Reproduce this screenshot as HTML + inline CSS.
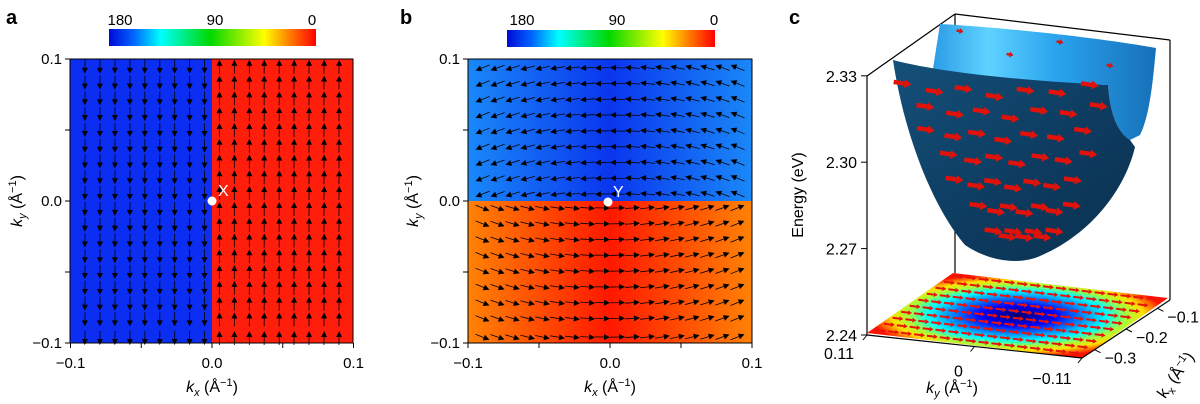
<!DOCTYPE html>
<html><head><meta charset="utf-8"><style>
html,body{margin:0;padding:0;background:#fff;}
svg{display:block;font-family:"Liberation Sans",Arial,sans-serif;}
</style></head><body>
<svg id="fig" width="1200" height="404" viewBox="0 0 1200 404">
<defs>
<linearGradient id="jet" x1="0" x2="1" y1="0" y2="0">
<stop offset="0" stop-color="#0008d8"/><stop offset="0.12" stop-color="#0066ff"/><stop offset="0.25" stop-color="#00ffff"/>
<stop offset="0.49" stop-color="#00d800"/><stop offset="0.75" stop-color="#ffff00"/><stop offset="0.87" stop-color="#ff8000"/><stop offset="1" stop-color="#ff0000"/>
</linearGradient>
<linearGradient id="bTop" x1="0" x2="1"><stop offset="0" stop-color="#1a88f8"/><stop offset="0.5" stop-color="#0a36ee"/><stop offset="1" stop-color="#1a88f8"/></linearGradient>
<linearGradient id="bBot" x1="0" x2="1"><stop offset="0" stop-color="#ff8205"/><stop offset="0.5" stop-color="#ff1800"/><stop offset="1" stop-color="#ff8205"/></linearGradient>
<radialGradient id="floorGrad" cx="50" cy="50" r="64" gradientUnits="userSpaceOnUse">
<stop offset="0" stop-color="#000070"/><stop offset="0.25" stop-color="#0000ff"/><stop offset="0.45" stop-color="#0090ff"/>
<stop offset="0.6" stop-color="#00ffff"/><stop offset="0.73" stop-color="#a0ff40"/><stop offset="0.85" stop-color="#ffe000"/><stop offset="1" stop-color="#ff1000"/>
</radialGradient>
<linearGradient id="backGrad" x1="0" x2="1" y1="0" y2="0"><stop offset="0" stop-color="#2b9be6"/><stop offset="0.25" stop-color="#5fd2ff"/><stop offset="0.55" stop-color="#2aa4ef"/><stop offset="1" stop-color="#1670b8"/></linearGradient>
<linearGradient id="frontGrad" x1="0" x2="1" y1="0" y2="1"><stop offset="0" stop-color="#14507a"/><stop offset="0.6" stop-color="#0d3a5e"/><stop offset="1" stop-color="#0b3150"/></linearGradient>
</defs>

<!-- Panel a -->
<text x="6" y="24" font-size="20" font-weight="bold">a</text>
<rect x="109" y="29" width="207" height="17" fill="url(#jet)"/>
<g font-size="15" text-anchor="middle">
<text x="120" y="25">180</text><text x="215" y="25">90</text><text x="312" y="25">0</text></g>
<rect x="70" y="59" width="142" height="284" fill="#0c2ef2"/>
<rect x="212" y="59" width="141" height="284" fill="#ff1e0c"/>
<g id="arrowsA"></g>
<rect x="70" y="59" width="283" height="284" fill="none" stroke="#000" stroke-width="1"/>
<g id="ticksA"></g>
<circle cx="212" cy="201" r="4.5" fill="#fff"/>
<text x="218" y="196" font-size="16" fill="#fff">X</text>
<text x="212" y="392" font-size="16" text-anchor="middle"><tspan font-style="italic">k</tspan><tspan font-style="italic" font-size="11" dy="4">x</tspan><tspan dy="-4"> (Å</tspan><tspan font-size="11" dy="-6">−1</tspan><tspan dy="6">)</tspan></text>
<text transform="translate(22,201) rotate(-90)" font-size="16" text-anchor="middle"><tspan font-style="italic">k</tspan><tspan font-style="italic" font-size="11" dy="4">y</tspan><tspan dy="-4"> (Å</tspan><tspan font-size="11" dy="-6">−1</tspan><tspan dy="6">)</tspan></text>

<!-- Panel b -->
<text x="400" y="24" font-size="20" font-weight="bold">b</text>
<rect x="507" y="30" width="208" height="17" fill="url(#jet)"/>
<g font-size="15" text-anchor="middle">
<text x="522" y="25">180</text><text x="617" y="25">90</text><text x="714" y="25">0</text></g>
<rect x="468" y="59" width="284" height="142" fill="url(#bTop)"/>
<rect x="468" y="201" width="284" height="142" fill="url(#bBot)"/>
<g id="arrowsB"></g>
<rect x="468" y="59" width="284" height="284" fill="none" stroke="#000" stroke-width="1"/>
<g id="ticksB"></g>
<circle cx="608" cy="202" r="4.5" fill="#fff"/>
<text x="613" y="197" font-size="16" fill="#fff">Y</text>
<text x="610" y="392" font-size="16" text-anchor="middle"><tspan font-style="italic">k</tspan><tspan font-style="italic" font-size="11" dy="4">x</tspan><tspan dy="-4"> (Å</tspan><tspan font-size="11" dy="-6">−1</tspan><tspan dy="6">)</tspan></text>
<text transform="translate(418,201) rotate(-90)" font-size="16" text-anchor="middle"><tspan font-style="italic">k</tspan><tspan font-style="italic" font-size="11" dy="4">y</tspan><tspan dy="-4"> (Å</tspan><tspan font-size="11" dy="-6">−1</tspan><tspan dy="6">)</tspan></text>

<!-- Panel c -->
<text x="789" y="24" font-size="20" font-weight="bold">c</text>
<g stroke="#000" stroke-width="1.2" fill="none">
<line x1="955" y1="14" x2="1170" y2="40"/><line x1="955" y1="14" x2="867" y2="76"/>
<line x1="955" y1="14" x2="955" y2="273"/><line x1="867" y1="76" x2="867" y2="335"/>
<line x1="1170" y1="40" x2="1170" y2="300"/>
</g>
<g transform="matrix(2.15,0.25,0.86,-0.60,867,333)"><rect x="0" y="0" width="100" height="100" fill="url(#floorGrad)"/></g>
<g id="floorArrows"></g>
<g stroke="#000" stroke-width="1.2" fill="none">
<line x1="867" y1="335" x2="1082" y2="358"/><line x1="1082" y1="358" x2="1170" y2="300"/>
</g>
<path d="M940,24 C1010,28 1100,38 1156,48 C1153,80 1150,115 1140,135 L1130,140 C1115,130 1110,110 1108,85 C1050,82 980,80 932,75 Z" fill="url(#backGrad)"/>
<g id="backArrows"></g>
<path d="M893,60 C950,75 1050,82 1108,85 C1110,110 1115,130 1130,140 L1135,147 C1125,190 1090,235 1040,256 C1020,265 990,262 965,245 C935,210 905,140 893,60 Z" fill="url(#frontGrad)"/>
<g id="surfArrows"></g>
<g id="ticksC"></g>
<text transform="translate(803,195) rotate(-90)" font-size="16" text-anchor="middle">Energy (eV)</text>
<text x="952" y="393" font-size="16" text-anchor="middle"><tspan font-style="italic">k</tspan><tspan font-style="italic" font-size="11" dy="4">y</tspan><tspan dy="-4"> (Å</tspan><tspan font-size="11" dy="-6">−1</tspan><tspan dy="6">)</tspan></text>
<text transform="translate(1180,378) rotate(-55)" font-size="16" text-anchor="middle"><tspan>k</tspan><tspan font-size="11" dy="4">x</tspan><tspan dy="-4"> (Å</tspan><tspan font-size="11" dy="-6">−1</tspan><tspan dy="6">)</tspan></text>
</svg>
<script>
// ---- data ----
const kxGrid = [-0.0898,-0.0792,-0.0686,-0.058,-0.0475,-0.0369,-0.0264,-0.0158,-0.0053,0.0053,0.0158,0.0264,0.0369,0.0475,0.058,0.0686,0.0792,0.0898];
const kyGrid = [0.0945,0.0834,0.0723,0.0612,0.0500,0.0389,0.0278,0.0167,0.0056,-0.0056,-0.0167,-0.0278,-0.0389,-0.0500,-0.0612,-0.0723,-0.0834,-0.0965];
const axisTicks = [-0.1,-0.05,0,0.05,0.1];
const axisTickLabels = ["−0.1","","0.0","","0.1"];
const energyTicks = [2.24,2.27,2.30,2.33];
const energyLabels = ["2.24","2.27","2.30","2.33"];
const kyTicks = [0.11,0,-0.11];
const kyLabels = ["0.11","0","−0.11"];
const kxTicks = [-0.3,-0.2,-0.1];
const kxLabels = ["−0.3","−0.2","−0.1"];
const surfS = [-0.9,-0.62,-0.33,-0.05,0.25,0.55,0.85];
const surfT = [0.08,0.2,0.33,0.46,0.6,0.74,0.88];
const backS = [0.05,0.3,0.55,0.8];
const floorU = [0.04,0.1,0.16,0.22,0.28,0.34,0.40,0.46,0.52,0.58,0.64,0.70,0.76,0.82,0.88,0.94];
const floorV = [0.06,0.16,0.26,0.36,0.46,0.56,0.66,0.76,0.86,0.96];

const NS="http://www.w3.org/2000/svg";
function mk(tag, attrs, parent){const e=document.createElementNS(NS,tag);for(const k in attrs)e.setAttribute(k,attrs[k]);parent.appendChild(e);return e;}
function arrow(g,cx,cy,dx,dy,L,color,w,hl,hw){
  const n=Math.hypot(dx,dy);dx/=n;dy/=n;
  const tx=cx-dx*L/2,ty=cy-dy*L/2,hx=cx+dx*L/2,hy=cy+dy*L/2;
  const bx=hx-dx*hl,by=hy-dy*hl;
  const grp=mk('g',{},g);
  
  
  mk('line',{x1:tx,y1:ty,x2:bx,y2:by,stroke:color,'stroke-width':w},grp);
  mk('polygon',{points:`${hx},${hy} ${bx-dy*hw},${by+dx*hw} ${bx+dy*hw},${by-dx*hw}`,fill:color},grp);
}
function xA(k){return 212+k*1415;} function xB(k){return 610+k*1420;} function yK(k){return 201-k*1420;}

const gA=document.getElementById('arrowsA');
kxGrid.forEach(kx=>kyGrid.forEach(ky=>{
  const dir = kx>0?-1:1;
  arrow(gA,xA(kx),yK(ky),0.3*kx,dir,14,'#000',0.8,6,3);
}));
const gB=document.getElementById('arrowsB');
kxGrid.forEach(kx=>kyGrid.forEach(ky=>{
  const sx = ky>0?-1:1;
  arrow(gB,xB(kx),yK(ky)+(ky>0?1:-1),sx,-4.5*kx,15,'#000',0.8,6,3);
}));
function axTicks(id,xf,x0){
  const g=document.getElementById(id);
  axisTicks.forEach((t,i)=>{
    const x=xf(t),y=yK(t);
    mk('line',{x1:x,y1:343,x2:x,y2:348,stroke:'#000'},g);
    mk('line',{x1:x0,y1:y,x2:x0-5,y2:y,stroke:'#000'},g);
    if(axisTickLabels[i]){
      const a=mk('text',{x:x,y:368,'font-size':15,'text-anchor':'middle'},g);a.textContent=axisTickLabels[i];
      const b=mk('text',{x:x0-8,y:y+5,'font-size':15,'text-anchor':'end'},g);b.textContent=axisTickLabels[i];
    }
  });
}
axTicks('ticksA',xA,70);
axTicks('ticksB',xB,468);

function yE(e){return 335-(e-2.24)*2880;}
const gC=document.getElementById('ticksC');
energyTicks.forEach((e,i)=>{
  const y=yE(e);
  mk('line',{x1:867,y1:y,x2:861,y2:y,stroke:'#000'},gC);
  const t=mk('text',{x:857,y:y+6,'font-size':16,'text-anchor':'end'},gC);t.textContent=energyLabels[i];
});
function kyPos(k){const f=(0.11-k)/0.22;return [867+215*f,335+23*f];}
kyTicks.forEach((k,i)=>{
  const [x,y]=kyPos(k);
  mk('line',{x1:x,y1:y,x2:x-4,y2:y+5,stroke:'#000'},gC);
  const off=[[-28,24],[-16,30],[-30,26]][i];
  const t=mk('text',{x:x+off[0],y:y+off[1],'font-size':16,'text-anchor':'middle'},gC);t.textContent=kyLabels[i];
});
function kxPos(k){const f=(k+0.34)/0.28;return [1082+88*f,358-58*f];}
kxTicks.forEach((k,i)=>{
  const [x,y]=kxPos(k);
  mk('line',{x1:x,y1:y,x2:x+6,y2:y+3,stroke:'#000'},gC);
  const t=mk('text',{x:x+10,y:y+14,'font-size':16,'text-anchor':'start'},gC);t.textContent=kxLabels[i];
});
const gF=document.getElementById('floorArrows');
function floorPt(u,v){return [867+215*u+86*v,333+25*u-60*v];}
floorV.forEach(v=>floorU.forEach(u=>{
  const [x,y]=floorPt(u,v);
  arrow(gF,x,y,215,25,11,'#e8140c',2,4,2.4);
}));
const gBk=document.getElementById('backArrows');
backS.forEach((s,i)=>{
  arrow(gBk,950+s*200,30+s*22+(i%2)*18,1,0.2,7,'#d8140c',2.5,4,3);
});
const gS=document.getElementById('surfArrows');
function surfPt(s,t){const hw=112*Math.pow(1-t,0.55);return [1002+28*t+s*hw, 78+t*175-Math.abs(s)*10*(1-t)];}
surfT.forEach((t,ti)=>surfS.forEach((s,si)=>{
  const [x,y]=surfPt(s+((ti%2)?0.07:-0.05),t+((si%2)?0.03:0));
  arrow(gS,x,y,1,0.15,18,'#e0120a',4.5,7,4.5);
}));
</script>
</body></html>
